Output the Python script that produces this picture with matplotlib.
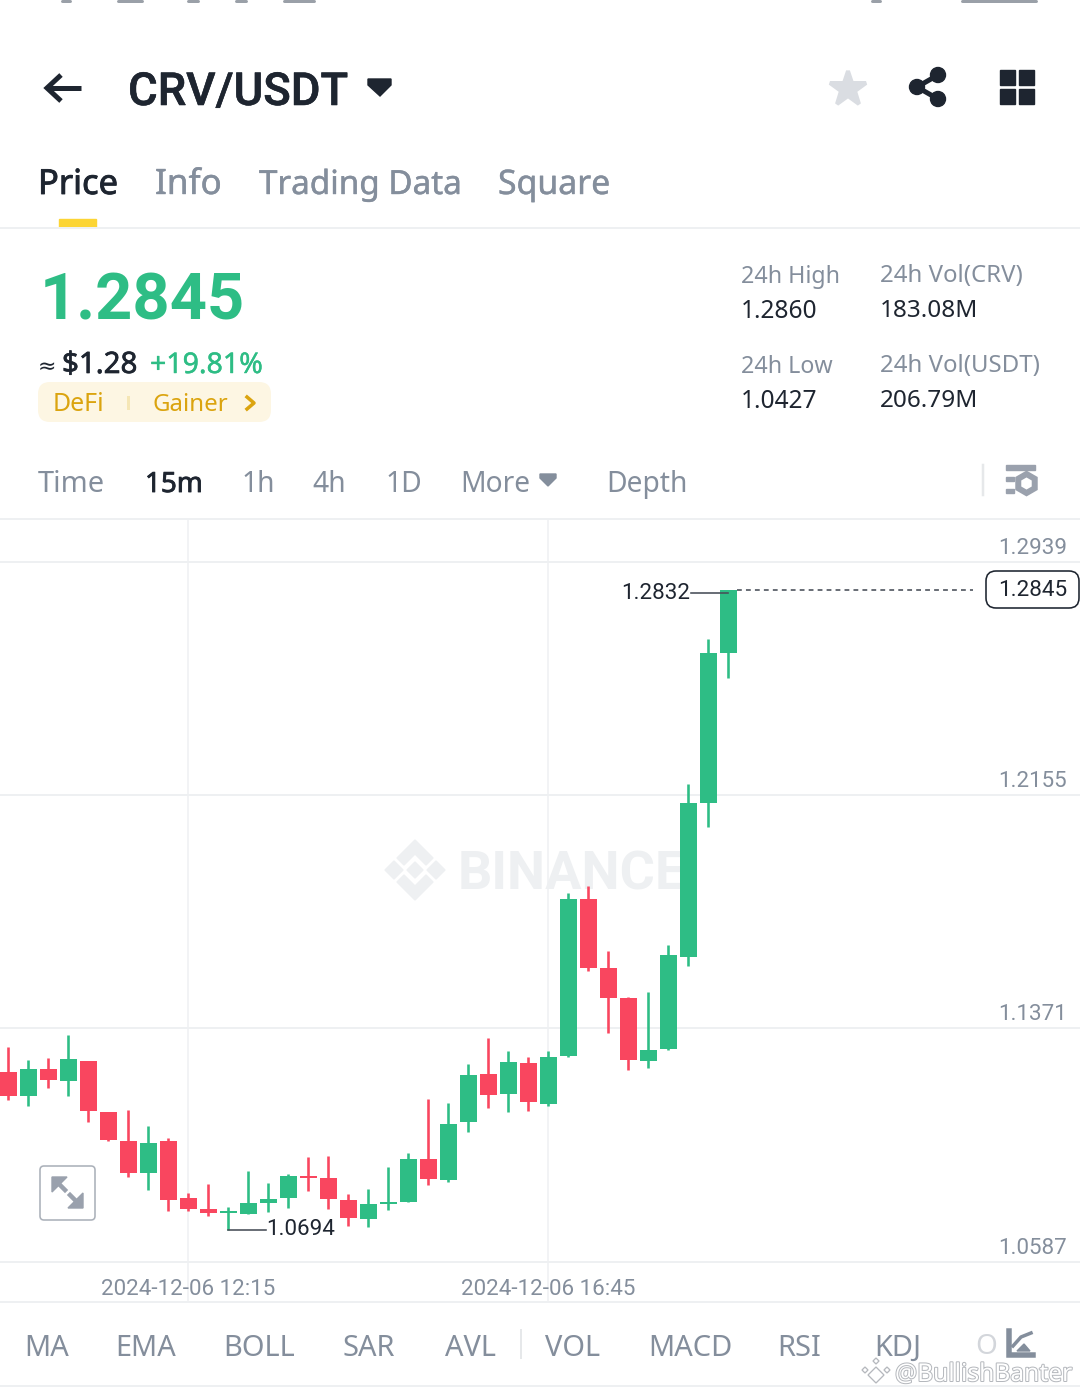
import matplotlib
matplotlib.use('Agg')
import matplotlib.pyplot as plt
import matplotlib.patheffects as pe
from matplotlib.patches import FancyBboxPatch, Polygon, Circle, Rectangle
import numpy as np
import pandas as pd

# candles, 15m
opens = [1.1225, 1.1142, 1.1233, 1.1194, 1.1260, 1.1089, 1.0993, 1.0883, 1.0993, 1.0799, 1.0762, 1.0750, 1.0748,
         1.0785, 1.0799, 1.0875, 1.0867, 1.0793, 1.0731, 1.0780, 1.0786, 1.0930, 1.0862, 1.1055, 1.1216, 1.1151,
         1.1253, 1.1116, 1.1276, 1.1805, 1.1573, 1.1471, 1.1262, 1.1302, 1.1610, 1.2127, 1.2631]
highs = [1.1309, 1.1263, 1.1270, 1.1347, 1.1260, 1.1089, 1.1097, 1.1043, 1.1002, 1.0818, 1.0848, 1.0771, 1.0892,
         1.0850, 1.0881, 1.0937, 1.0941, 1.0813, 1.0830, 1.0905, 1.0953, 1.1134, 1.1121, 1.1250, 1.1337, 1.1293,
         1.1273, 1.1294, 1.1824, 1.1848, 1.1629, 1.1477, 1.1493, 1.1649, 1.2190, 1.2680, 1.2845]
lows = [1.1130, 1.1110, 1.1169, 1.1143, 1.1057, 1.0992, 1.0872, 1.0827, 1.0758, 1.0756, 1.0740, 1.0694, 1.0748,
        1.0753, 1.0767, 1.0823, 1.0763, 1.0706, 1.0704, 1.0759, 1.0786, 1.0843, 1.0853, 1.1023, 1.1104, 1.1089,
        1.1094, 1.1108, 1.1274, 1.1563, 1.1354, 1.1231, 1.1238, 1.1298, 1.1580, 1.2047, 1.2548]
closes = [1.1144, 1.1233, 1.1197, 1.1266, 1.1094, 1.0996, 1.0883, 1.0985, 1.0793, 1.0762, 1.0749, 1.0758, 1.0784,
          1.0798, 1.0875, 1.0868, 1.0796, 1.0733, 1.0779, 1.0788, 1.0930, 1.0864, 1.1049, 1.1214, 1.1147, 1.1256,
          1.1122, 1.1275, 1.1806, 1.1574, 1.1471, 1.1264, 1.1299, 1.1616, 1.2127, 1.2631, 1.2845]
times = pd.date_range('2024-12-06 10:00', periods=len(opens), freq='15min')

price_ticks = [1.2939, 1.2155, 1.1371, 1.0587]
date_ticks = ['2024-12-06 12:15', '2024-12-06 16:45']
last_price = 1.2845
max_label = 1.2832
min_label = 1.0694

GREEN = '#2EBD85'
RED = '#F9465F'
DARK = '#1E2530'
GRAY = '#848E9C'
LINE = '#EEF0F2'
FONT = 'Roboto'
PLEX = ['Noto Sans', 'DejaVu Sans']

W, H = 1080, 1394
fig = plt.figure(figsize=(W / 100, H / 100), dpi=100, facecolor='white')


def px(v):
    return v * 0.72


# whole page in pixel coordinates
ui = fig.add_axes([0, 0, 1, 1], zorder=0)
ui.set_xlim(0, W)
ui.set_ylim(H, 0)
ui.axis('off')


def txt(x, y, s, size, color=GRAY, weight='normal', ha='left', family=PLEX, fat=0, **kw):
    t = ui.text(x, y, s, fontsize=px(size), color=color, fontweight=weight, ha=ha, va='baseline',
                family=family, **kw)
    if fat:
        # no medium weight in the font, thicken it a little
        t.set_path_effects([pe.withStroke(linewidth=fat, foreground=color)])
    return t


def hline(y, x0=0, x1=W, color=LINE, lw=2):
    ui.plot([x0, x1], [y, y], color=color, lw=px(lw), solid_capstyle='butt')


def diamond(cx, cy, r, **kw):
    ui.add_patch(Polygon([(cx, cy - r), (cx + r, cy), (cx, cy + r), (cx - r, cy)], **kw))


# bits of the cut off status bar at the very top
for x0, x1 in [(62, 70), (118, 142), (188, 198), (236, 246), (284, 314), (872, 880), (962, 1036)]:
    ui.plot([x0, x1], [1, 1], color='#9AA0A8', lw=px(3), solid_capstyle='round')

# header
ui.plot([48, 81], [88, 88], color=DARK, lw=px(5), solid_capstyle='butt')
ui.plot([61, 47, 61], [75, 88, 101], color=DARK, lw=px(5), solid_joinstyle='miter', solid_capstyle='butt')
txt(128, 105, 'CRV/USDT', 45.5, DARK, 'medium', family=FONT, fat=0.4)
ui.add_patch(Polygon([(368, 79), (391, 79), (391, 85), (380, 96), (368, 85)], color=DARK))
ui.plot([848], [89], marker='*', ms=px(37), color='#DADDE2', mec='#DADDE2', mew=px(4), ls='none')
for a, b in [((917, 87), (938, 75)), ((917, 87), (938, 99))]:
    ui.plot([a[0], b[0]], [a[1], b[1]], color=DARK, lw=px(5))
for c in [(917, 87), (938, 75), (938, 99)]:
    ui.add_patch(Circle(c, 7.5, color=DARK))
for x0, y0 in [(1000, 70), (1019, 70), (1000, 89), (1019, 89)]:
    ui.add_patch(Rectangle((x0, y0), 15, 15, color=DARK))

# tabs
txt(38, 194, 'Price', 34.5, DARK, fat=0.6)
txt(155, 194, 'Info', 35, fat=0.3)
txt(259, 194, 'Trading Data', 33.2, fat=0.3)
txt(498, 194, 'Square', 33.8, fat=0.3)
ui.add_patch(Rectangle((59, 219), 37, 8, color='#FCD535'))
hline(228)

# price block
txt(40, 320, '1.2845', 65, GREEN, 'bold', family=FONT)
txt(38, 373, '≈', 22, DARK)
txt(62, 373, '$1.28', 29.5, DARK, fat=0.5)
txt(150, 373, '+19.81%', 28.5, GREEN, fat=0.3)
ui.add_patch(FancyBboxPatch((50, 394), 209, 16, boxstyle='round,pad=12,rounding_size=12', fc='#FDF6E3', ec='none'))
txt(53, 411, 'DeFi', 25, '#DBA40F')
ui.plot([128, 128], [397, 408], color='#F5E6B5', lw=px(3))
txt(153, 411, 'Gainer', 24, '#DBA40F')
ui.plot([247, 254, 247], [397, 403, 409], color='#DBA40F', lw=px(3.5))

txt(741, 283, '24h High', 23.3)
txt(741, 318, '1.2860', 24.5, DARK)
txt(741, 373, '24h Low', 23.3)
txt(741, 408, '1.0427', 24.5, DARK)
txt(880, 282, '24h Vol(CRV)', 24)
txt(880, 317, '183.08M', 24.3, DARK)
txt(880, 372, '24h Vol(USDT)', 24)
txt(880, 407, '206.79M', 24.3, DARK)

# interval row
txt(38, 492, 'Time', 29)
for x, s in [(241, '1h'), (312, '4h'), (385, '1D'), (460, 'More'), (606, 'Depth')]:
    txt(x, 492, s, 28.2)
txt(145, 492, '15m', 27.8, DARK, fat=0.6)
ui.add_patch(Polygon([(540, 474), (556, 474), (556, 478), (548, 486), (540, 478)], color=GRAY))
ui.plot([983, 983], [465, 495], color='#E6E8EA', lw=px(2.5))
ui.add_patch(Rectangle((1006, 465), 29, 5, color='#9AA1AD'))
ui.add_patch(Rectangle((1006, 477), 8, 4, color='#9AA1AD'))
ui.add_patch(Rectangle((1006, 489), 8, 4, color='#9AA1AD'))
ui.plot([1026], [483], marker='h', ms=px(19), mfc='white', mec='#9AA1AD', mew=px(6), ls='none')
hline(519)

# chart logo watermark
mark = '#EEF0F2'
diamond(415, 870, 8, color=mark)
diamond(394, 870, 9, color=mark)
diamond(436, 870, 9, color=mark)
ui.add_patch(Polygon([(415, 840), (433, 858), (426, 865), (415, 854), (404, 865), (397, 858)], color=mark))
ui.add_patch(Polygon([(415, 900), (433, 882), (426, 875), (415, 886), (404, 875), (397, 882)], color=mark))
txt(458, 890, 'BINANCE', 54, mark, 'bold', family=FONT)

# price box
ui.add_patch(FancyBboxPatch((993, 578), 79, 23, boxstyle='round,pad=7,rounding_size=10', fc='white', ec=DARK, lw=px(1.6)))
ui.text(1033, 590, f'{last_price:.4f}', fontsize=px(22.5), color=DARK, ha='center', va='center', family=FONT)

# expand button
ui.add_patch(FancyBboxPatch((44, 1170), 47, 46, boxstyle='round,pad=4,rounding_size=4', fc='white', ec='#ABB1BA', lw=px(1.6)))
ui.plot([58, 65], [1183, 1190], color='#9AA1AD', lw=px(4.5))
ui.plot([70, 77], [1195, 1202], color='#9AA1AD', lw=px(4.5))
ui.add_patch(Polygon([(52, 1177), (67, 1177), (52, 1192)], color='#9AA1AD'))
ui.add_patch(Polygon([(83, 1208), (68, 1208), (83, 1193)], color='#9AA1AD'))

# indicator row
hline(1302)
hline(1386)
for x, s in [(24, 'MA'), (115, 'EMA'), (223, 'BOLL'), (342, 'SAR'), (445, 'AVL'), (545, 'VOL'),
             (648, 'MACD'), (777, 'RSI'), (874, 'KDJ')]:
    txt(x, 1356, s, 29)
txt(975, 1354, 'O', 28, '#D3D6DB')
ui.plot([521, 521], [1330, 1358], color='#E6E8EA', lw=px(2))
ui.plot([1009, 1009, 1033], [1331, 1355, 1355], color=GRAY, lw=px(5.5), solid_joinstyle='miter')
ui.plot([1013, 1021, 1031], [1346, 1337, 1333], color=GRAY, lw=px(3.5))
ui.add_patch(Polygon([(1017, 1351), (1030, 1351), (1024, 1344)], color=GRAY))

# repost mark
t = txt(895, 1381, '@BullishBanter', 24.6, 'white')
t.set_path_effects([pe.withStroke(linewidth=px(2), foreground='#B5B8BD')])
for cx, cy, r in [(876, 1375, 8), (865, 1370, 3), (887, 1370, 3), (876, 1361, 3)]:
    diamond(cx, cy, r, fc='white', ec='#B5B8BD', lw=px(1.3))

# chart, index 0 sits at x=8.3px, one candle every 20px, y scale 0.000336 per px
top_px, bottom_px = 519, 1302
ax = fig.add_axes([0, 1 - bottom_px / H, 1, (bottom_px - top_px) / H], zorder=1)
ax.patch.set_alpha(0)
ax.set_xlim(-0.415, 53.585)
ax.set_ylim(1.0451, 1.3082)
for s in ax.spines.values():
    s.set_visible(False)

xs = np.arange(len(opens))
date_pos = [list(times.strftime('%Y-%m-%d %H:%M')).index(d) for d in date_ticks]
ax.set_xticks(date_pos, date_ticks)
ax.set_yticks(price_ticks, [])
ax.tick_params(length=0)
ax.tick_params(axis='x', pad=px(-23), labelsize=px(22.4), labelcolor=GRAY)
for lab in ax.get_xticklabels():
    lab.set_family(FONT)
ax.grid(True, axis='y', color=LINE, lw=px(2))
ax.grid(True, axis='x', color=LINE, lw=px(1.5))
ax.set_axisbelow(True)

for p in price_ticks:
    ax.annotate(f'{p:.4f}', (1067 / W, p), xycoords=('axes fraction', 'data'), xytext=(0, px(3)),
                textcoords='offset points', ha='right', va='bottom', fontsize=px(22.4), color=GRAY, family=FONT)

colors = [GREEN if c >= o else RED for o, c in zip(opens, closes)]
ax.vlines(xs, lows, highs, colors=colors, lw=px(2.6), zorder=3)
body_low = np.minimum(opens, closes)
body_h = np.abs(np.array(closes) - np.array(opens))
ax.bar(xs, body_h, bottom=body_low, width=0.865, color=colors, zorder=4)

# current price dashes, high and low labels
ax.plot([xs[-1] + 0.45, 48.25], [last_price, last_price], color='#474D57', lw=px(1.6), dashes=(3, 2.6), zorder=2)
imax = int(np.argmax(highs))
imin = int(np.argmin(lows))
ax.plot([imax, imax - 1.85], [max_label, max_label], color='#474D57', lw=px(1.6), zorder=5)
ax.annotate(f'{max_label:.4f}', (imax - 1.85, max_label), xytext=(-0.5, 0), textcoords='offset points', ha='right',
            va='center', fontsize=px(22.4), color=DARK, family=FONT)
ax.plot([imin, imin, imin + 1.9], [lows[imin], min_label, min_label], color='#474D57', lw=px(1.6), zorder=5)
ax.annotate(f'{min_label:.4f}', (imin + 1.9, min_label), xytext=(0, 0), textcoords='offset points', ha='left',
            va='center', fontsize=px(22.4), color=DARK, family=FONT)

fig.savefig('out.png', dpi=100)
